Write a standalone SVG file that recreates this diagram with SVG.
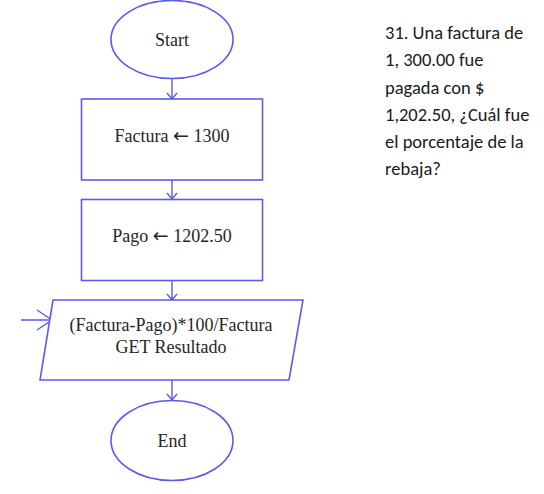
<svg xmlns="http://www.w3.org/2000/svg" width="544" height="494" viewBox="0 0 544 494">
<style>
.s{fill:#fff;stroke:#5a5af2;stroke-width:1.6}
.c{fill:none;stroke:#5a5af2;stroke-width:1.4}
.t{font-family:"Liberation Serif","Times New Roman",serif;font-size:18px;fill:#262626;text-anchor:middle}
.a{font-family:"DejaVu Sans",sans-serif;font-size:19px}
.q{font-family:"Carlito","Liberation Sans",Arial,sans-serif;font-size:18.5px;fill:#1a1a1a}
</style>
<rect width="544" height="494" fill="#fff"/>
<g id="connectors">
<path class="c" d="M172,79 V99 M167,93 L172,99 L177,93"/>
<path class="c" d="M172,180 V199 M167,193 L172,199 L177,193"/>
<path class="c" d="M172,281 V300 M167,294 L172,300 L177,294"/>
<path class="c" d="M172,380 V400 M167,394 L172,400 L177,394"/>
<path class="c" d="M21,320 H52 M37,310 L52,320 L37,330"/>
</g>
<g id="start"><ellipse class="s" cx="172" cy="39.5" rx="61" ry="39"/><text class="t" x="172" y="46">Start</text></g>
<g id="factura"><rect class="s" x="81.5" y="99" width="181" height="81"/><text class="t" x="172" y="141.5">Factura <tspan class="a">←</tspan> 1300</text></g>
<g id="pago"><rect class="s" x="81.5" y="199.5" width="181" height="81"/><text class="t" x="172" y="241.5">Pago <tspan class="a">←</tspan> 1202.50</text></g>
<g id="calc"><polygon class="s" points="53,300 303,300 289,380 40,380"/><text class="t" x="171" y="331">(Factura-Pago)*100/Factura</text><text class="t" x="171" y="353">GET Resultado</text></g>
<g id="end"><ellipse class="s" cx="172" cy="440.5" rx="61" ry="40"/><text class="t" x="172" y="447">End</text></g>
<g id="question" class="q">
<text x="385" y="39">31. Una factura de</text>
<text x="385" y="66">1, 300.00 fue</text>
<text x="385" y="93.5">pagada con $</text>
<text x="385" y="121">1,202.50, ¿Cuál fue</text>
<text x="385" y="148">el porcentaje de la</text>
<text x="385" y="175">rebaja?</text>
</g>
</svg>
